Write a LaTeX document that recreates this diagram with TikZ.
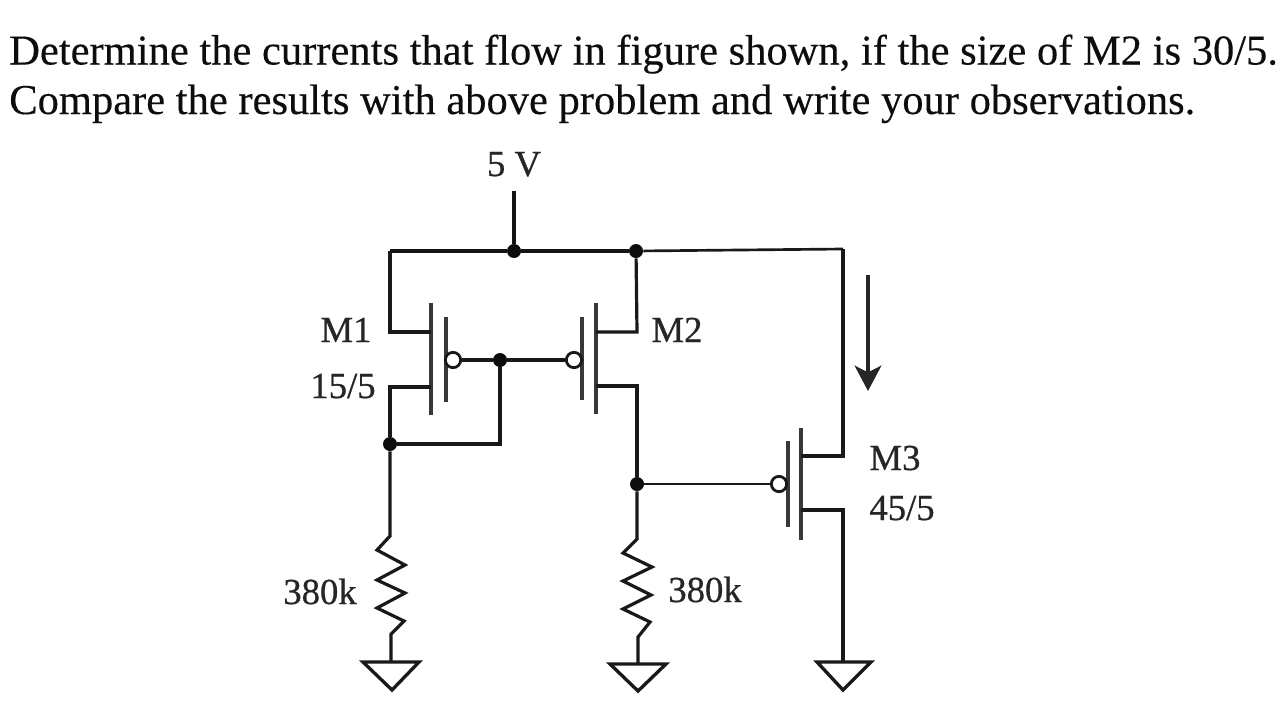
\documentclass[tikz,border=0pt]{standalone}
\usepackage{fontspec}
\setmainfont{Liberation Serif}
\newfontfamily\lbfont[RawFeature={embolden=0.7}]{Liberation Serif}
\newfontfamily\ttlfont[RawFeature={embolden=0.25}]{Liberation Serif}
\usetikzlibrary{arrows.meta}
\tikzset{
  px/.style={x=0.75pt,y=-0.75pt},
  wire/.style={draw=black!90,line width=2.4pt,line join=miter},
  thin wire/.style={draw=black!90,line width=2pt},
  rail/.style={draw=black!92,line width=2.8pt},
  dot/.style={circle,fill=black!95,inner sep=0pt,minimum size=10.5pt},
  bubble/.style={circle,draw=black!90,line width=2.1pt,fill=white,inner sep=0pt,minimum size=11.5pt},
  title/.style={anchor=base west,inner sep=0pt,font=\ttlfont\fontsize{31.9pt}{34pt}\selectfont,text=black!95},
  lab/.style={anchor=base,inner sep=0pt,font=\lbfont\fontsize{27.5pt}{29pt}\selectfont,text=black!85},
  gnd/.style={draw=black!90,line width=2.5pt,line join=miter,fill=white},
  plate/.style={draw=black!78,line width=2.7pt}
}
\begin{document}
\begin{tikzpicture}[px]
\useasboundingbox (0,0) rectangle (1280,715);
\node[title] (t1) at (9,64.5) {Determine the currents that flow in figure shown, if the size of M2 is 30/5.};
\node[title] (t2) at (9,114) {Compare the results with above problem and write your observations.};
\node[lab] (v5) at (514,176) {5 V};
\node[lab] (m1) at (346,342) {M1};
\node[lab] (s1) at (343,398) {15/5};
\node[lab] (m2) at (677,342) {M2};
\node[lab] (m3) at (895,470) {M3};
\node[lab] (s3) at (902,520) {45/5};
\node[lab] (r1) at (320,604) {380k};
\node[lab] (r2) at (705,602) {380k};
% named points
\coordinate (vtop) at (514,191);
\coordinate (rl) at (390,251);
\coordinate (rr) at (843,249);
\node[dot] (na) at (514,251) {};
\node[dot] (nb) at (636,251) {};
\node[dot] (ng) at (500,360) {};
\node[dot] (nd) at (390,444) {};
\node[dot] (ne) at (637,484) {};
% rails
\draw[rail] (vtop) -- (na);
\draw[rail] (rl) -- (na) -- (nb);
\draw[thin wire] (nb) -- (rr);
% M1
\draw[plate] (431,303) -- (431,415);
\draw[plate] (446,317) -- (446,402);
\draw[wire] (rl) -- (390,332) -- (431,332);
\draw[wire] (431,387) -- (390,387) -- (nd);
\node[bubble] (b1) at (453,360) {};
\draw[wire] (b1) -- (ng);
\draw[wire] (nd) -- (500,444) -- (ng);
% M2
\draw[plate] (596,303) -- (596,414);
\draw[plate] (582,317) -- (582,400);
\draw[wire] (nb) -- (637,332) -- (596,332);
\draw[wire] (596,386) -- (637,386) -- (ne);
\node[bubble] (b2) at (574,360) {};
\draw[wire] (ng) -- (b2);
% M3
\draw[plate] (801,428) -- (801,540);
\draw[plate] (788,441) -- (788,527);
\node[bubble] (b3) at (779,484) {};
\draw[thin wire] (ne) -- (b3);
\draw[wire] (rr) -- (843,456) -- (801,456);
\draw[wire] (801,510) -- (843,510) -- (843,662);
% resistors
\draw[wire] (nd) -- (390,536) -- (377,550) -- (405,565) -- (377,580) -- (405,593) -- (377,608) -- (404,621) -- (391,634) -- (391,662);
\draw[wire] (ne) -- (637,539) -- (623,553) -- (652,567) -- (623,581) -- (651,595) -- (623,609) -- (650,622) -- (638,637) -- (638,663);
% grounds
\draw[gnd] (363,662) -- (419,662) -- (392,690) -- cycle;
\draw[gnd] (610,664) -- (666,664) -- (638,691) -- cycle;
\draw[gnd] (817,662) -- (871,662) -- (843,690) -- cycle;
% current arrow
\coordinate (ia) at (868,275);
\coordinate (ib) at (868,391);
\draw[draw=black!85,line width=2.3pt,-{Stealth[length=19pt,width=20pt,inset=5pt]}] (ia) -- (ib);
\end{tikzpicture}
\end{document}
